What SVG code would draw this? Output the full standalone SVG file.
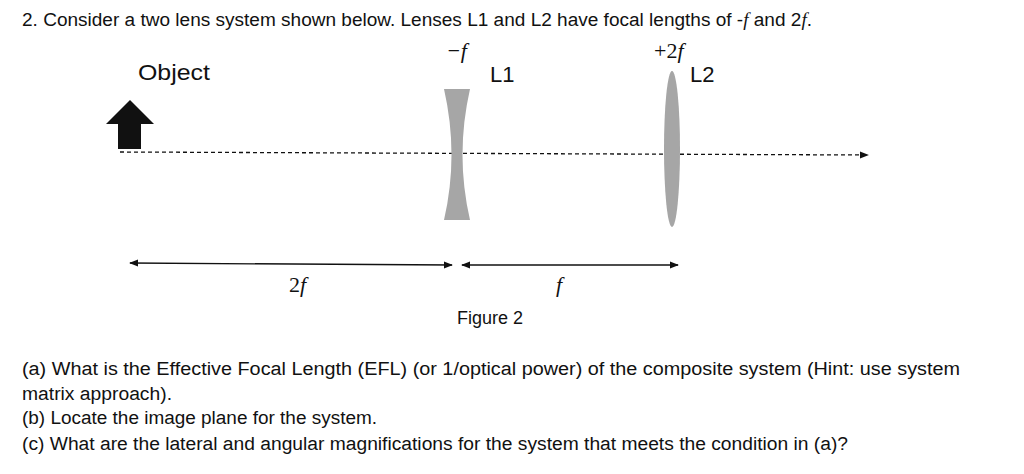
<svg xmlns="http://www.w3.org/2000/svg" width="1024" height="474" viewBox="0 0 1024 474">
<style>
text{font-family:"Liberation Sans",Arial,sans-serif;font-size:18px;fill:#111}
.lbl{font-size:22px}
.i{font-family:"Liberation Serif",serif;font-style:italic;font-size:22px}
.lens{fill:#a6a6a6}
.dim{stroke:#111;stroke-width:1.3;fill:none}
</style>
<defs>
<marker id="ah" viewBox="0 0 10 10" refX="9" refY="5" markerWidth="7" markerHeight="7" orient="auto-start-reverse"><path d="M0,1 L10,5 L0,9 z" fill="#111"/></marker>
</defs>
<rect width="1024" height="474" fill="#fff"/>
<text x="22" y="26" textLength="790" lengthAdjust="spacingAndGlyphs">2. Consider a two lens system shown below. Lenses L1 and L2 have focal lengths of -<tspan style="font-family:'Liberation Serif',serif;font-style:italic">f</tspan> and 2<tspan style="font-family:'Liberation Serif',serif;font-style:italic">f</tspan>.</text>
<g id="object"><path d="M130,100 L154,124 L141,124 L141,149 L118,149 L118,124 L106,124 z" fill="#111"/><text x="138" y="80" class="lbl" textLength="72" lengthAdjust="spacingAndGlyphs">Object</text></g>
<g id="connectors">
<line x1="120" y1="152" x2="868" y2="155" stroke="#111" stroke-width="1.3" stroke-dasharray="4,3" marker-end="url(#ah)"/>
<line class="dim" x1="130" y1="263" x2="452" y2="265" marker-start="url(#ah)" marker-end="url(#ah)"/>
<line class="dim" x1="462" y1="265" x2="678" y2="265" marker-start="url(#ah)" marker-end="url(#ah)"/>
</g>
<g id="L1"><path class="lens" d="M444,89 L470,89 Q455,155 470,220 L444,220 Q459,155 444,89 z"/><text x="490" y="82" class="lbl">L1</text><text x="446" y="58" class="i">−f</text></g>
<g id="L2"><ellipse class="lens" cx="672" cy="149" rx="8" ry="78"/><text x="690" y="82" class="lbl">L2</text><text x="654" y="58" class="i" style="font-style:normal">+2<tspan style="font-style:italic">f</tspan></text></g>
<text x="289" y="292" class="i" style="font-style:normal">2<tspan style="font-style:italic">f</tspan></text>
<text x="556" y="292" class="i">f</text>
<text x="457" y="324">Figure 2</text>
<text x="22" y="375" textLength="938" lengthAdjust="spacingAndGlyphs">(a) What is the Effective Focal Length (EFL) (or 1/optical power) of the composite system (Hint: use system</text>
<text x="22" y="400" textLength="150" lengthAdjust="spacingAndGlyphs">matrix approach).</text>
<text x="22" y="424" textLength="355" lengthAdjust="spacingAndGlyphs">(b) Locate the image plane for the system.</text>
<text x="22" y="450" textLength="826" lengthAdjust="spacingAndGlyphs">(c) What are the lateral and angular magnifications for the system that meets the condition in (a)?</text>
</svg>
